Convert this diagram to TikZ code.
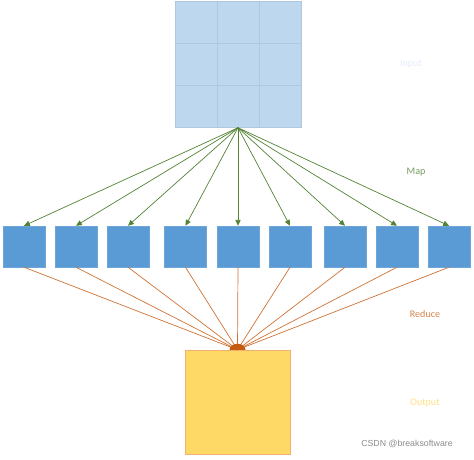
\documentclass[tikz,border=0pt]{standalone}
\usepackage{fontspec}
\setmainfont{Carlito}
\newfontfamily\markfont{Liberation Sans}
\usetikzlibrary{arrows.meta, calc}

\definecolor{inputblue}{HTML}{BDD7EE}
\definecolor{gridblue}{HTML}{AFC8E2}
\definecolor{mapblue}{HTML}{5B9BD5}
\definecolor{mapedge}{HTML}{6FA6DA}
\definecolor{mapgreen}{HTML}{548235}
\definecolor{reduceorange}{HTML}{C55A11}
\definecolor{outyellow}{HTML}{FFD966}
\definecolor{outedge}{HTML}{F0B070}

\begin{document}
\begin{tikzpicture}
    [
        x = 0.03cm, y = -0.03cm,
        every node/.append style = {font = \fontsize{8.6}{10}\selectfont},
        input box/.style = {draw = gridblue, fill = inputblue, minimum size = 3.78cm, inner sep = 0},
        map box/.style = {draw = mapedge, fill = mapblue, minimum width = 1.26cm, minimum height = 1.23cm, inner sep = 0},
        output box/.style = {draw = outedge, fill = outyellow, minimum width = 3.15cm, minimum height = 3.12cm, inner sep = 0},
        map arrow/.style = {draw = mapgreen, line width = 0.6pt, -{Triangle[length = 5pt, width = 4.5pt]}},
        reduce line/.style = {draw = reduceorange!85, line width = 0.6pt},
        caption/.style = {inner sep = 0}]

    \useasboundingbox (0,0) rectangle (474,460);

    % input block with 3x3 grid
    \node [input box] (in) at (238,64.5) {};
    \foreach \t in {1,2} {
        \draw [gridblue] ($(in.north west)!\t/3!(in.north east)$) -- ($(in.south west)!\t/3!(in.south east)$);
        \draw [gridblue] ($(in.north west)!\t/3!(in.south west)$) -- ($(in.north east)!\t/3!(in.south east)$);
    }

    % map blocks
    \foreach \x [count = \i] in {24, 76, 128, 185.5, 238, 290, 345, 397, 449}
        \node [map box] (m\i) at (\x,246.5) {};

    % output block
    \node [output box] (out) at (237.5,402) {};

    \foreach \i in {1,...,9} {
        \draw [map arrow] (in.south) -- (m\i.north);
        \draw [reduce line] (m\i.south) -- (out.north);
    }
    \fill [reduceorange] ($(out.north) + (-8,0)$) arc (180:360:8 and 6) -- cycle;

    % labels
    \node [caption, text = inputblue!70!blue!20] (lin) at (411,64) {Input};
    \node [caption, text = mapgreen!80!white] (lmap) at (416,172) {Map};
    \node [caption, text = reduceorange!75!white] (lred) at (425,314) {Reduce};
    \node [caption, text = outyellow!80!white] (lout) at (425,403) {Output};
    \node [caption, text = black!45, font = \markfont\fontsize{7.5}{9}\selectfont] (mark) at (407,444) {CSDN @breaksoftware};

\end{tikzpicture}
\end{document}
